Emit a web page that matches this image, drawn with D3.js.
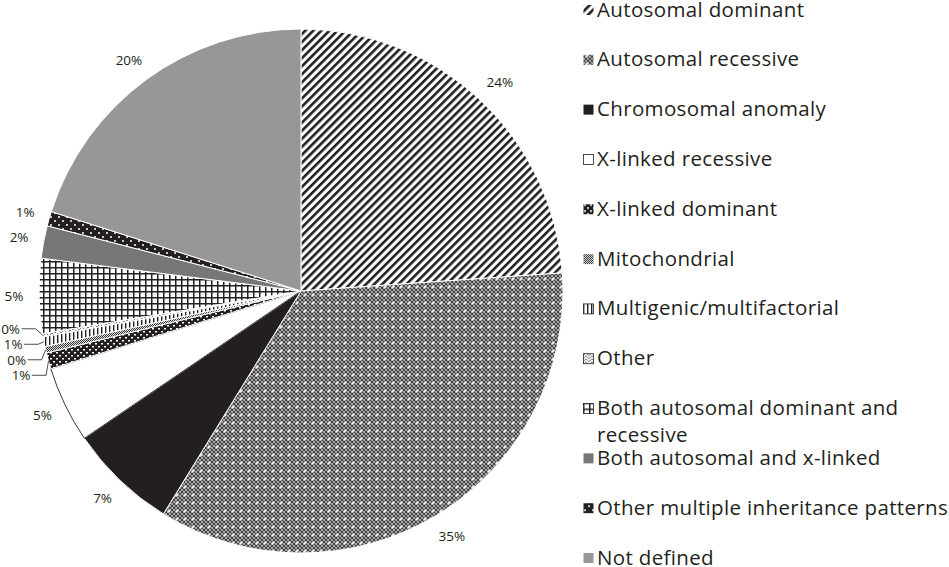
<!DOCTYPE html>
<html>
<head>
<meta charset="utf-8">
<script src="https://cdn.jsdelivr.net/npm/d3@7"></script>
<style>
  html, body { margin: 0; padding: 0; background: #fff; }
  svg { display: block; }
  text { font-family: "Open Sans", Lato, sans-serif; fill: #231f20; }
</style>
</head>
<body>
<svg id="chart" width="949" height="567"></svg>
<script>
/* Inheritance pattern pie chart */

const categories = [
  'Autosomal dominant',
  'Autosomal recessive',
  'Chromosomal anomaly',
  'X-linked recessive',
  'X-linked dominant',
  'Mitochondrial',
  'Multigenic/multifactorial',
  'Other',
  'Both autosomal dominant and recessive',
  'Both autosomal and x-linked',
  'Other multiple inheritance patterns',
  'Not defined'
];
const shares = [23.9, 34.9, 6.7, 4.7, 1.0, 0.4, 0.6, 0.2, 4.6, 2.0, 0.9, 20.1];
const fills = [
  'url(#p-ad)', 'url(#p-ar)', '#231f20', '#ffffff', 'url(#p-xld)', 'url(#p-mito)',
  'url(#p-multi)', 'url(#p-other)', 'url(#p-grid)', '#777777', 'url(#p-omi)', '#979797'
];

const W = 949, H = 567;
const cx = 301, cy = 291, R = 262;

const svg = d3.select('#chart');
const defs = svg.append('defs');

// --- fill patterns (Excel style) ---
function pattern(id, w, h, transform) {
  const p = defs.append('pattern').attr('id', id)
    .attr('patternUnits', 'userSpaceOnUse').attr('width', w).attr('height', h);
  if (transform) p.attr('patternTransform', transform);
  return p;
}

let p = pattern('p-ad', 5.7, 10, 'rotate(45)');
p.append('rect').attr('width', 5.7).attr('height', 10).attr('fill', '#fff');
p.append('rect').attr('width', 2.6).attr('height', 10).attr('fill', '#231f20');

p = pattern('p-ar', 8, 8);
p.append('rect').attr('width', 8).attr('height', 8).attr('fill', '#a8a8a8');
for (let i = 0; i < 4; i++) for (let j = 0; j < 4; j++) {
  if ((i + j) % 2 === 0) p.append('rect').attr('x', i * 2).attr('y', j * 2)
    .attr('width', 2).attr('height', 2).attr('fill', '#444');
}
p.append('rect').attr('x', 2.5).attr('y', 3.4).attr('width', 3).attr('height', 1.2).attr('fill', '#fff');
p.append('rect').attr('x', 3.4).attr('y', 2.5).attr('width', 1.2).attr('height', 3).attr('fill', '#fff');

p = pattern('p-xld', 6, 6);
p.append('rect').attr('width', 6).attr('height', 6).attr('fill', '#231f20');
p.append('rect').attr('x', 1).attr('y', 1).attr('width', 2).attr('height', 1.5).attr('fill', '#fff');
p.append('rect').attr('x', 4).attr('y', 4).attr('width', 2).attr('height', 1.5).attr('fill', '#fff');

p = pattern('p-mito', 2, 2);
p.append('rect').attr('width', 2).attr('height', 2).attr('fill', '#e0e0e0');
p.append('rect').attr('width', 1).attr('height', 1).attr('fill', '#333');
p.append('rect').attr('x', 1).attr('y', 1).attr('width', 1).attr('height', 1).attr('fill', '#333');

p = pattern('p-multi', 4, 4);
p.append('rect').attr('width', 4).attr('height', 4).attr('fill', '#fff');
p.append('rect').attr('width', 1.4).attr('height', 4).attr('fill', '#231f20');

p = pattern('p-other', 6, 6);
p.append('rect').attr('width', 6).attr('height', 6).attr('fill', '#fff');
p.append('path').attr('d', 'M0,6L3,3L6,6M0,3L3,0L6,3').attr('stroke', '#555').attr('fill', 'none').attr('stroke-width', 0.8);

p = pattern('p-grid', 6, 6);
p.append('rect').attr('width', 6).attr('height', 6).attr('fill', '#fff');
p.append('rect').attr('width', 1.5).attr('height', 6).attr('fill', '#231f20');
p.append('rect').attr('width', 6).attr('height', 1.5).attr('fill', '#231f20');

p = pattern('p-omi', 8, 8);
p.append('rect').attr('width', 8).attr('height', 8).attr('fill', '#231f20');
p.append('circle').attr('cx', 2).attr('cy', 2).attr('r', 1).attr('fill', '#fff');
p.append('circle').attr('cx', 6).attr('cy', 6).attr('r', 1).attr('fill', '#fff');

// --- pie ---
const data = categories.map((c, i) => ({ name: c, value: shares[i], fill: fills[i], i }));
const pie = d3.pie().value(d => d.value).sort(null);
const arcs = pie(data);
const arc = d3.arc().innerRadius(0).outerRadius(R);

const g = svg.append('g').attr('transform', `translate(${cx},${cy})`);

g.selectAll('path.slice').data(arcs).join('path')
  .attr('class', 'slice')
  .attr('d', arc)
  .attr('fill', d => d.data.fill)
  .attr('stroke', d => d.data.fill === '#ffffff' ? '#231f20' : '#fff')
  .attr('stroke-width', d => d.data.fill === '#ffffff' ? 0.9 : 1);

// --- data labels, outside end ---
const fmt = v => d3.format('.0f')(v) + '%';
const labelR = R + 16;
const lh = 8, pad = 15.5;

const labels = arcs.map(a => {
  const mid = (a.startAngle + a.endAngle) / 2;
  const ux = Math.sin(mid), uy = -Math.cos(mid);
  const text = fmt(a.data.value);
  const w = text.length * 9;
  return {
    text, w, ux, uy, mid,
    x: labelR * ux + ux * w / 2,
    y: labelR * uy + uy * lh,
    y0: labelR * uy + uy * lh,
    ex: R * ux, ey: R * uy
  };
});

// push apart overlapping labels on the left side
const left = labels.filter(l => l.ux < 0).sort((a, b) => a.y - b.y);
for (let iter = 0; iter < 200; iter++) {
  let moved = false;
  for (let k = 1; k < left.length; k++) {
    const a = left[k - 1], b = left[k];
    const gap = b.y - a.y;
    if (gap < pad) {
      const shift = (pad - gap) / 2;
      a.y -= shift; b.y += shift; moved = true;
    }
  }
  if (!moved) break;
}
left.forEach(l => {
  if (Math.abs(l.y - l.y0) > 0.5) {
    l.moved = true;
    l.x = -Math.sqrt(labelR * labelR - l.y * l.y) - l.w / 2 - 6;
  }
});

const lg = g.append('g');
lg.selectAll('path.leader').data(labels.filter(l => l.moved)).join('path')
  .attr('class', 'leader')
  .attr('fill', 'none').attr('stroke', '#231f20').attr('stroke-width', 0.8)
  .attr('d', l => {
    const sx = l.x + l.w / 2 + 2;
    const elbow = Math.min(sx + 14, l.ex - 2);
    return `M${sx},${l.y}H${elbow}L${l.ex},${l.ey}`;
  });

lg.selectAll('text').data(labels).join('text')
  .attr('x', l => l.x).attr('y', l => l.y)
  .attr('text-anchor', 'middle')
  .attr('dominant-baseline', 'central')
  .attr('font-size', 13.5)
  .text(l => l.text);

// --- legend ---
const legend = svg.append('g').attr('transform', 'translate(583,0)');
const rowY = d3.scaleLinear().domain([0, 11]).range([10, 558]);
const maxW = W - 597 + 6;

const items = legend.selectAll('g.item').data(data).join('g')
  .attr('class', 'item')
  .attr('transform', d => `translate(0,${rowY(d.i)})`);

items.append('rect')
  .attr('x', 0.5).attr('y', -5).attr('width', 10).attr('height', 10)
  .attr('fill', d => d.fill)
  .attr('stroke', d => d.fill === '#ffffff' || d.fill === 'url(#p-other)' || d.fill === 'url(#p-multi)' || d.fill === 'url(#p-grid)' ? '#231f20' : 'none')
  .attr('stroke-width', 0.8);

items.append('text')
  .attr('x', 14).attr('y', 6.5)
  .attr('font-size', 20.5)
  .attr('letter-spacing', 0.35)
  .each(function (d) {
    const t = d3.select(this);
    const words = d.name.split(' ');
    let line = [];
    let tspan = t.append('tspan').attr('x', 14).attr('dy', 0);
    words.forEach(wd => {
      line.push(wd);
      tspan.text(line.join(' '));
      if (tspan.node().getComputedTextLength() > maxW && line.length > 1) {
        line.pop();
        tspan.text(line.join(' '));
        line = [wd];
        tspan = t.append('tspan').attr('x', 14).attr('dy', 27).text(wd);
      }
    });
  });
</script>
</body>
</html>
